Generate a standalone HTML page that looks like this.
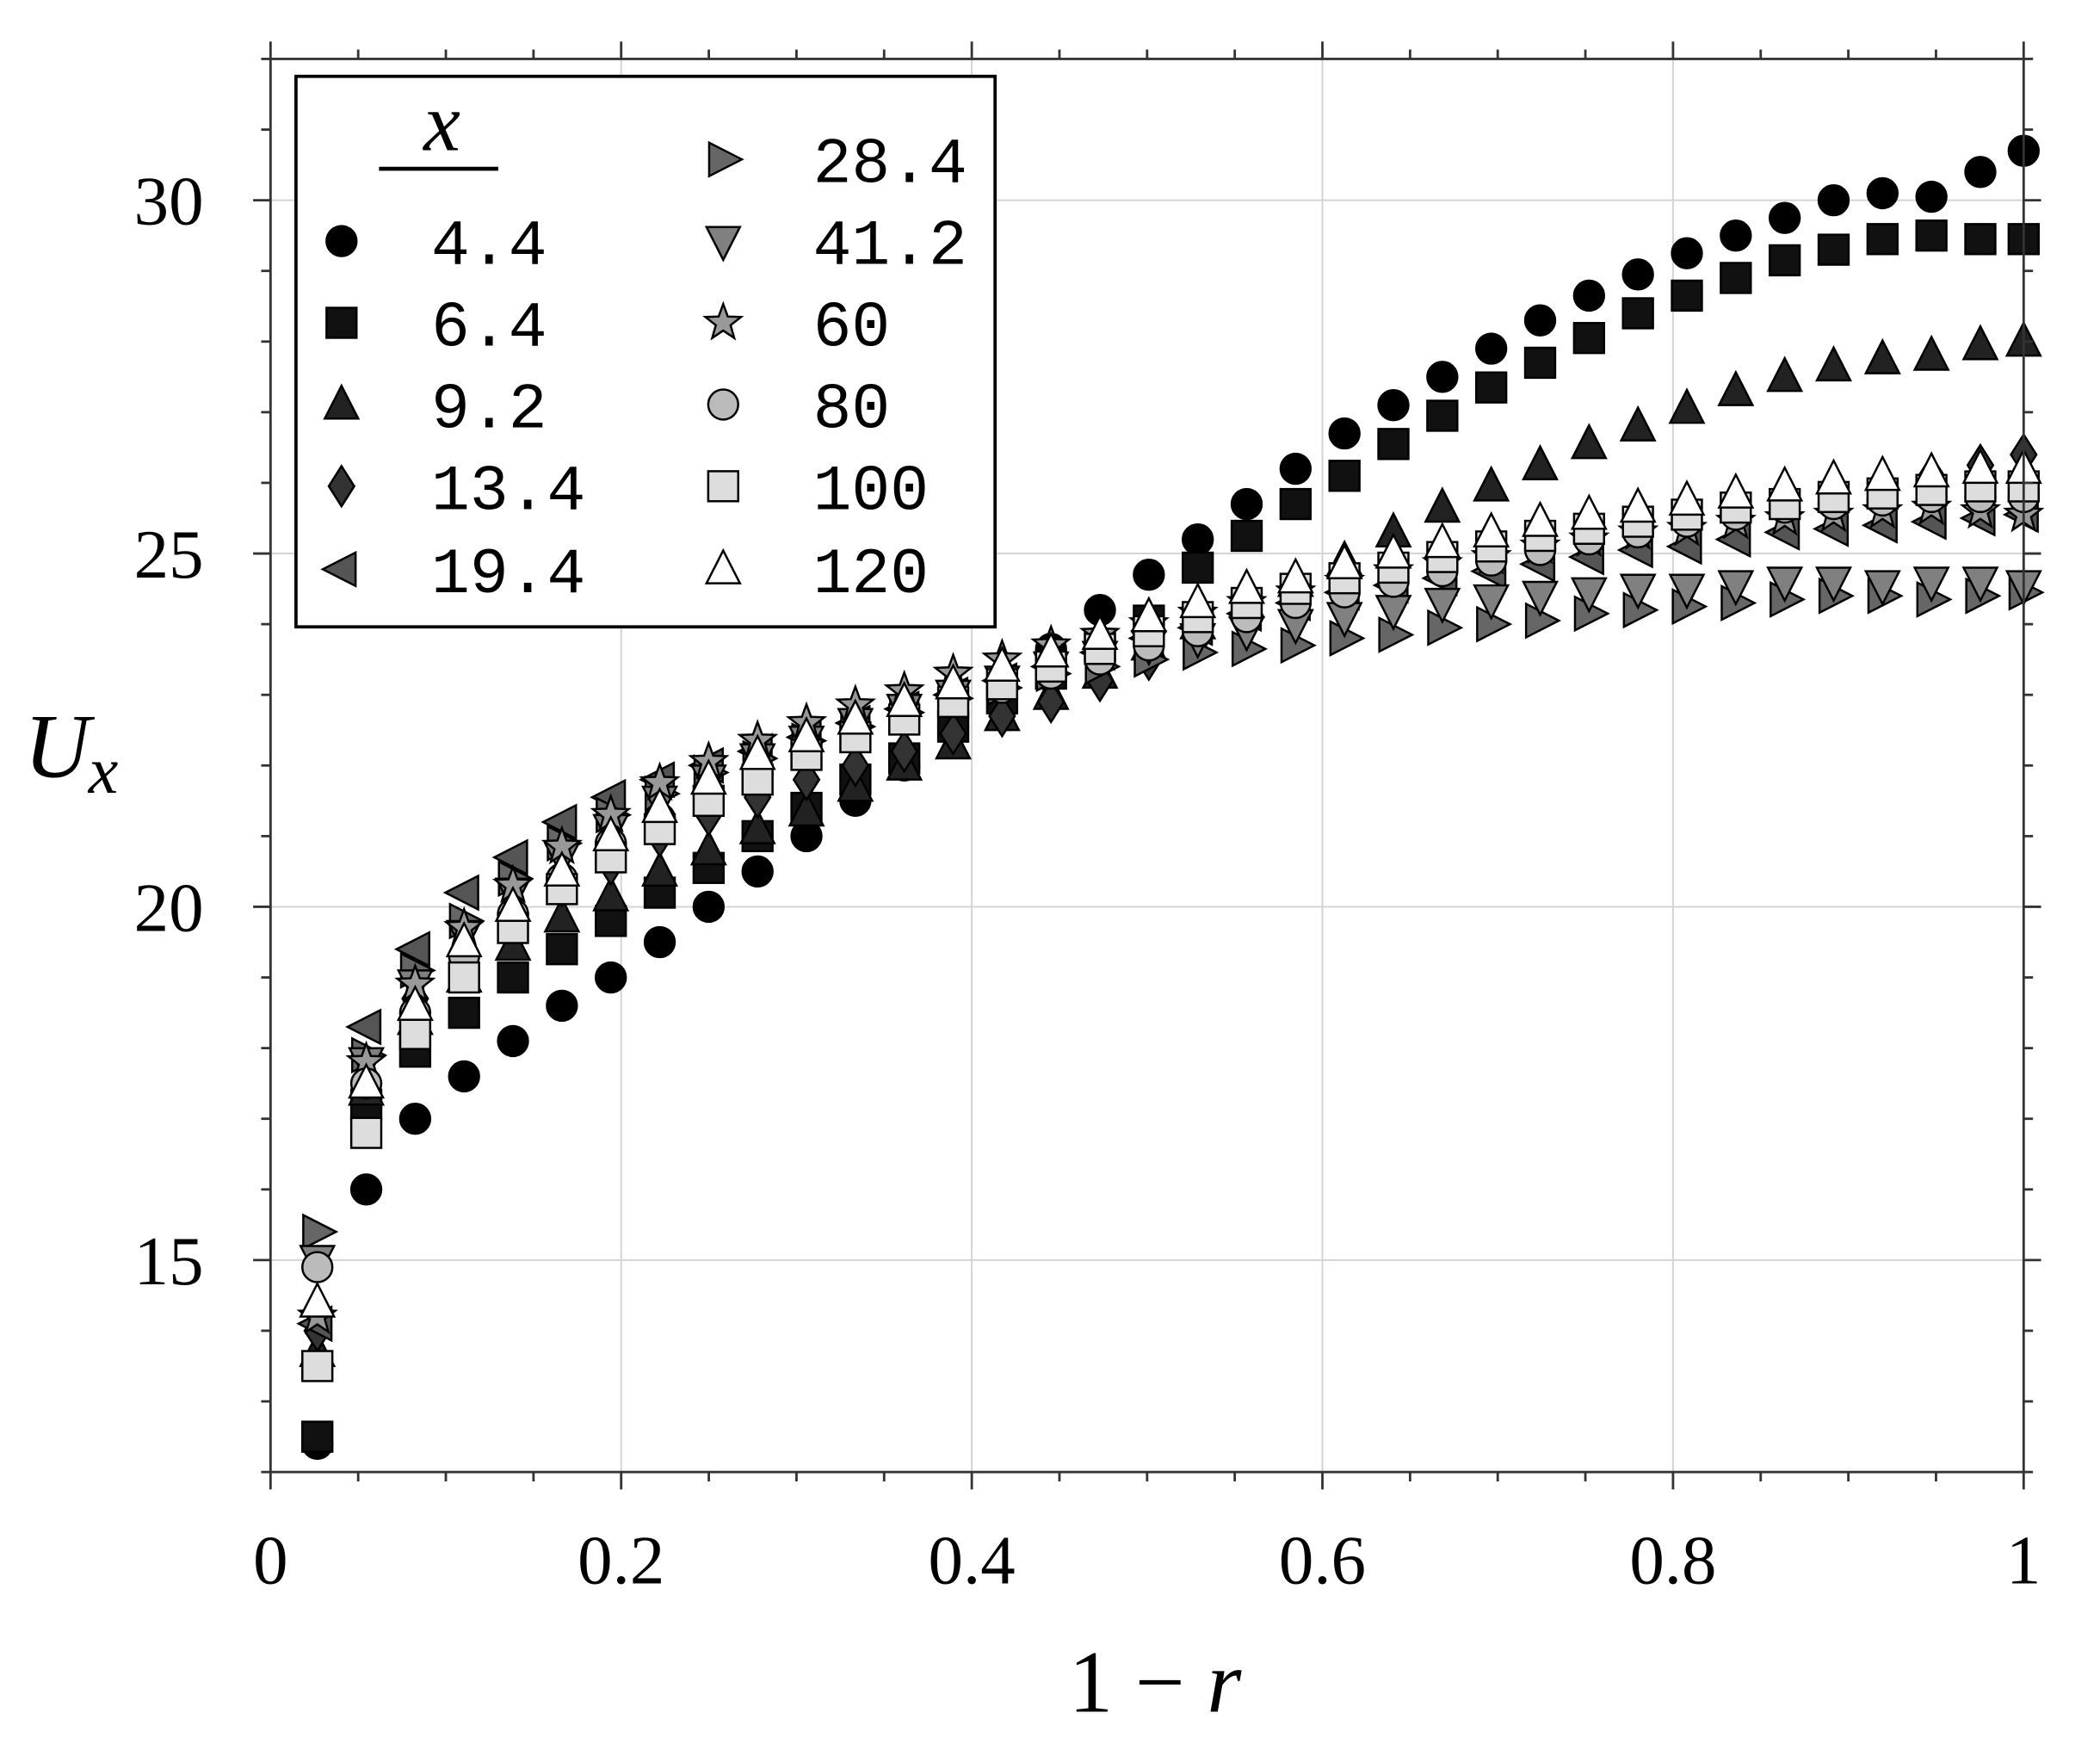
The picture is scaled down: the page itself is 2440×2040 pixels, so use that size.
<!DOCTYPE html>
<html><head><meta charset="utf-8"><style>html,body{margin:0;padding:0;background:#fff}svg{display:block}</style></head>
<body>
<svg id="s" width="2440" height="2040" viewBox="0 0 1568 1311" preserveAspectRatio="none" xmlns="http://www.w3.org/2000/svg">
<rect width="1568" height="1311" fill="#fff"/>
<g id="grid"></g>
<g id="data"></g>
<g id="axes"></g>
<g id="leg"></g>
<text x="18" y="580" font-family="Liberation Serif, serif" font-style="italic" font-size="68">U</text>
<text x="66" y="592" font-family="Liberation Serif, serif" font-style="italic" font-size="50">x</text>
<text x="798" y="1278" font-family="Liberation Serif, serif" font-size="66">1 − <tspan font-style="italic">r</tspan></text>
</svg>
<script>
const NS="http://www.w3.org/2000/svg";
const L=202,R=1511,T=44,B=1099;
const X=v=>L+v*(R-L), Y=u=>B-(u-12)*(B-T)/20;
function el(p,t,a){const e=document.createElementNS(NS,t);for(const k in a)e.setAttribute(k,a[k]);p.appendChild(e);return e;}
const g=document.getElementById('grid'),ax=document.getElementById('axes');
for(const v of [0.2,0.4,0.6,0.8]) el(g,'line',{x1:X(v),x2:X(v),y1:T,y2:B,stroke:'#d4d4d4','stroke-width':1.3});
for(const u of [15,20,25,30]) el(g,'line',{x1:L,x2:R,y1:Y(u),y2:Y(u),stroke:'#d4d4d4','stroke-width':1.3});
el(ax,'rect',{x:L,y:T,width:R-L,height:B-T,fill:'none',stroke:'#333','stroke-width':1.8});
for(let i=0;i<=20;i++){const v=i*0.05,maj=i%4==0,len=maj?13:7;
 el(ax,'line',{x1:X(v),x2:X(v),y1:B,y2:B+len,stroke:'#333','stroke-width':1.8});
 el(ax,'line',{x1:X(v),x2:X(v),y1:T,y2:T-len,stroke:'#333','stroke-width':1.8});}
for(let u=12;u<=32;u++){const maj=u%5==0,len=maj?13:7;
 el(ax,'line',{x1:L,x2:L-len,y1:Y(u),y2:Y(u),stroke:'#333','stroke-width':1.8});
 el(ax,'line',{x1:R,x2:R+len,y1:Y(u),y2:Y(u),stroke:'#333','stroke-width':1.8});}
const ff="Liberation Serif, serif";
[[0,'0'],[0.2,'0.2'],[0.4,'0.4'],[0.6,'0.6'],[0.8,'0.8'],[1,'1']].forEach(([v,t])=>{const e=el(ax,'text',{x:X(v),y:1182,'text-anchor':'middle','font-family':ff,'font-size':52});e.textContent=t;});
[15,20,25,30].forEach(u=>{const e=el(ax,'text',{x:152,y:Y(u)+18,'text-anchor':'end','font-family':ff,'font-size':52});e.textContent=u;});
const xs=[];for(let i=0;i<35;i++)xs.push(0.0267+i*0.0279);xs.push(1.0);
const S=[
['c','#000',[12.4,16.0,17.0,17.6,18.1,18.6,19.0,19.5,20.0,20.5,21.0,21.5,22.0,22.55,23.1,23.65,24.2,24.7,25.2,25.7,26.2,26.7,27.1,27.5,27.9,28.3,28.65,28.95,29.25,29.5,29.75,30.0,30.1,30.05,30.4,30.7],'4.4'],
['s','#111',[12.5,17.2,17.95,18.5,19.0,19.4,19.8,20.2,20.55,21.0,21.4,21.8,22.1,22.55,22.95,23.3,23.7,24.05,24.8,25.25,25.7,26.1,26.55,26.95,27.35,27.7,28.05,28.4,28.65,28.9,29.15,29.3,29.45,29.5,29.45,29.45],'6.4'],
['u','#222',[13.7,17.4,18.4,19.0,19.45,19.85,20.15,20.5,20.8,21.1,21.35,21.7,22.0,22.3,22.7,23.0,23.3,23.7,24.0,24.3,24.6,24.9,25.3,25.65,25.95,26.25,26.55,26.8,27.05,27.3,27.5,27.65,27.75,27.8,27.95,28.0],'9.2'],
['d','#333',[14.0,17.6,18.7,19.3,19.8,20.3,20.6,21.0,21.3,21.55,21.8,22.0,22.2,22.45,22.7,22.9,23.2,23.5,23.8,24.0,24.25,24.45,24.65,24.85,25.0,25.2,25.35,25.5,25.6,25.75,25.85,25.95,26.0,26.1,26.25,26.4],'13.4'],
['l','#555',[14.1,18.3,19.4,20.2,20.7,21.2,21.55,21.8,22.0,22.2,22.4,22.6,22.8,23.0,23.2,23.4,23.6,23.8,23.95,24.15,24.3,24.45,24.55,24.65,24.75,24.85,24.95,25.05,25.1,25.2,25.3,25.35,25.4,25.45,25.5,25.55],'19.4'],
['r','#666',[15.4,17.9,19.1,19.8,20.4,20.9,21.3,21.6,21.9,22.1,22.35,22.55,22.75,22.95,23.1,23.3,23.4,23.5,23.6,23.65,23.7,23.8,23.85,23.95,24.0,24.05,24.15,24.2,24.25,24.3,24.35,24.4,24.4,24.35,24.4,24.45],'28.4'],
['v','#808080',[15.0,17.8,18.9,19.6,20.2,20.7,21.1,21.5,21.8,22.1,22.35,22.6,22.8,23.0,23.2,23.4,23.55,23.7,23.8,23.9,24.0,24.1,24.2,24.3,24.35,24.4,24.45,24.5,24.5,24.55,24.6,24.6,24.55,24.6,24.6,24.55],'41.2'],
['*','#999',[14.2,17.8,18.9,19.7,20.3,20.85,21.3,21.75,22.05,22.35,22.6,22.85,23.05,23.3,23.5,23.7,23.85,24.0,24.15,24.3,24.45,24.6,24.75,24.85,24.95,25.1,25.2,25.3,25.35,25.45,25.5,25.55,25.6,25.65,25.6,25.55],'60'],
['c','#bbb',[14.9,17.5,18.5,19.3,19.9,20.4,20.9,21.25,21.6,21.9,22.2,22.45,22.7,22.9,23.1,23.3,23.5,23.7,23.9,24.1,24.3,24.45,24.6,24.75,24.9,25.05,25.2,25.3,25.45,25.55,25.65,25.7,25.75,25.8,25.8,25.8],'80'],
['s','#ddd',[13.5,16.8,18.2,19.0,19.7,20.25,20.7,21.1,21.5,21.8,22.15,22.4,22.65,22.9,23.15,23.4,23.65,23.9,24.1,24.3,24.5,24.65,24.8,24.95,25.1,25.25,25.35,25.45,25.55,25.65,25.7,25.8,25.85,25.9,25.95,25.95],'100'],
['u','#fff',[14.4,17.5,18.6,19.5,20.0,20.5,21.0,21.4,21.8,22.15,22.4,22.65,22.9,23.15,23.4,23.6,23.85,24.1,24.3,24.5,24.65,24.85,25.0,25.15,25.3,25.45,25.55,25.65,25.75,25.85,25.95,26.05,26.1,26.15,26.2,26.2],'120']];
function mk(p,t,c,x,y){const a={fill:c,stroke:'#000','stroke-width':1.6};const r=11.2;
 if(t=='c')return el(p,'circle',Object.assign({cx:x,cy:y,r:r},a));
 if(t=='s')return el(p,'rect',Object.assign({x:x-r,y:y-r,width:2*r,height:2*r},a));
 let pts;
 if(t=='u')pts=[[0,-14],[12.5,10.5],[-12.5,10.5]];
 if(t=='v')pts=[[0,14],[12.5,-10.5],[-12.5,-10.5]];
 if(t=='l')pts=[[-14,0],[10.5,-12.5],[10.5,12.5]];
 if(t=='r')pts=[[14,0],[-10.5,-12.5],[-10.5,12.5]];
 if(t=='d')pts=[[0,-15],[9.5,0],[0,15],[-9.5,0]];
 if(t=='*'){pts=[];for(let i=0;i<10;i++){const ang=-Math.PI/2+i*Math.PI/5,rr=i%2?5.8:14;pts.push([rr*Math.cos(ang),rr*Math.sin(ang)]);}}
 return el(p,'polygon',Object.assign({points:pts.map(q=>(x+q[0])+','+(y+q[1])).join(' ')},a));}
const d=document.getElementById('data');
S.forEach(s=>s[2].forEach((u,i)=>mk(d,s[0],s[1],X(xs[i]),Y(u))));
const lg=document.getElementById('leg');
el(lg,'rect',{x:221,y:57,width:522,height:411,fill:'#fff',stroke:'#000','stroke-width':2.4});
const h=el(lg,'text',{x:330,y:112,'text-anchor':'middle','font-family':ff,'font-style':'italic','font-size':62});h.textContent='x';
el(lg,'line',{x1:283,x2:372,y1:126,y2:126,stroke:'#000','stroke-width':3});
const rows=[180,241,302,363,425],rows2=[119,180,241,302,363,425];
S.forEach((s,i)=>{let mx,tx,y;if(i<5){mx=255;tx=322;y=rows[i];}else{mx=540;tx=607;y=rows2[i-5];}
 mk(lg,s[0],s[1],mx,y);const e=el(lg,'text',{x:tx,y:y+17,'font-family':'Liberation Mono, monospace','font-size':48});e.textContent=s[3];});
</script>
</body></html>
